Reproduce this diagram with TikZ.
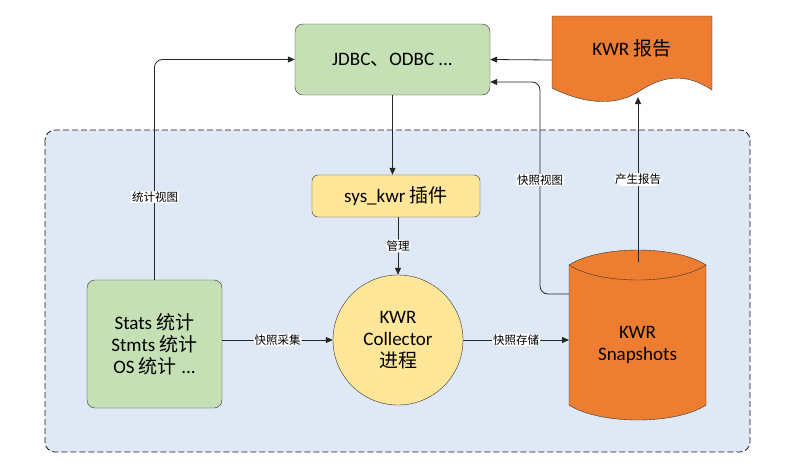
\documentclass[tikz,border=0pt]{standalone}
\usepackage{fontspec}
\setmainfont{Carlito}
\newfontfamily\cjk{Noto Sans CJK SC}
\usetikzlibrary{arrows.meta,shapes.geometric}
\definecolor{bgblue}{HTML}{DEE9F5}
\definecolor{grn}{HTML}{C5E0B4}
\definecolor{yel}{HTML}{FFE699}
\definecolor{org}{HTML}{ED7D31}
\begin{document}
\begin{tikzpicture}[x=1pt,y=-1pt,
  box/.style={draw=black!80,rounded corners=8pt,align=center,font=\fontsize{19}{22}\selectfont},
  arr/.style={draw=black!85,line width=0.8pt,-{Triangle[length=7pt,width=6pt]},rounded corners=8pt},
  lbl/.style={fill=white,inner sep=1pt,font=\cjk\fontsize{11.5}{13}\selectfont}]
\useasboundingbox (0,0) rectangle (795,474);
\draw[black!90,dashed,dash pattern=on 6pt off 3pt,fill=bgblue,rounded corners=10pt,line width=0.8pt] (45,130) rectangle (750,452);
\node[box,fill=grn,minimum width=195pt,minimum height=71pt] (jdbc) at (392.5,59.5) {JDBC{\cjk 、}ODBC ...};
\node[box,fill=yel,minimum width=168pt,minimum height=42pt,rounded corners=6pt] (sys) at (396,196) {sys\_kwr {\cjk 插件}};
\node[circle,draw=black!80,fill=yel,minimum size=130pt,align=center,font=\fontsize{19}{22}\selectfont] (col) at (398,340) {KWR\\Collector\\{\cjk 进程}};
\node[box,fill=grn,minimum width=135pt,minimum height=128pt] (stats) at (154.5,344) {Stats {\cjk 统计}\\Stmts {\cjk 统计}\\OS {\cjk 统计} ...};
% cylinder
\draw[draw=black!80,fill=org] (569,265) .. controls (600,245) and (676,245) .. (706,265) -- (706,405) .. controls (676,425) and (600,425) .. (569,405) -- cycle;
\draw[black!80] (569,265) .. controls (600,285) and (676,285) .. (706,265);
\node[align=center,font=\fontsize{19}{22}\selectfont,minimum width=137pt,minimum height=100pt] (cyl) at (637.5,345) {KWR\\Snapshots};
% document
\draw[draw=black!80,fill=org] (552,16) -- (712,16) -- (712,90) .. controls (685,72) and (662,76) .. (638,92) .. controls (612,108) and (580,102) .. (552,88) -- cycle;
\node[font=\fontsize{19}{22}\selectfont] (rep) at (632,48) {KWR {\cjk 报告}};
\coordinate (repB) at (638,97);
\coordinate (repL) at (552,60);
\coordinate (vw) at (540,82);
% arrows
\draw[arr] (stats.north) |- (jdbc.west);
\node[lbl] (l1) at (155,197) {统计视图};
\draw[arr] (jdbc.south) -- (sys.north -| jdbc.south);
\draw[arr] (sys.south -| col.north) -- (col.north) node[lbl,midway] {管理};
\draw[arr] (stats.east |- col) -- (col.west) node[lbl,midway] {快照采集};
\draw[arr] (col.east) -- (569,340) node[lbl,midway] {快照存储};
\draw[arr] (569,294) -| (vw) -- (vw -| jdbc.east);
\node[lbl] (l2) at (540,180) {快照视图};
\draw[arr] (638,262) -- (repB) node[lbl,midway] {产生报告};
\draw[arr,rounded corners=0pt] (repL) -- (jdbc.east);
\end{tikzpicture}
\end{document}
